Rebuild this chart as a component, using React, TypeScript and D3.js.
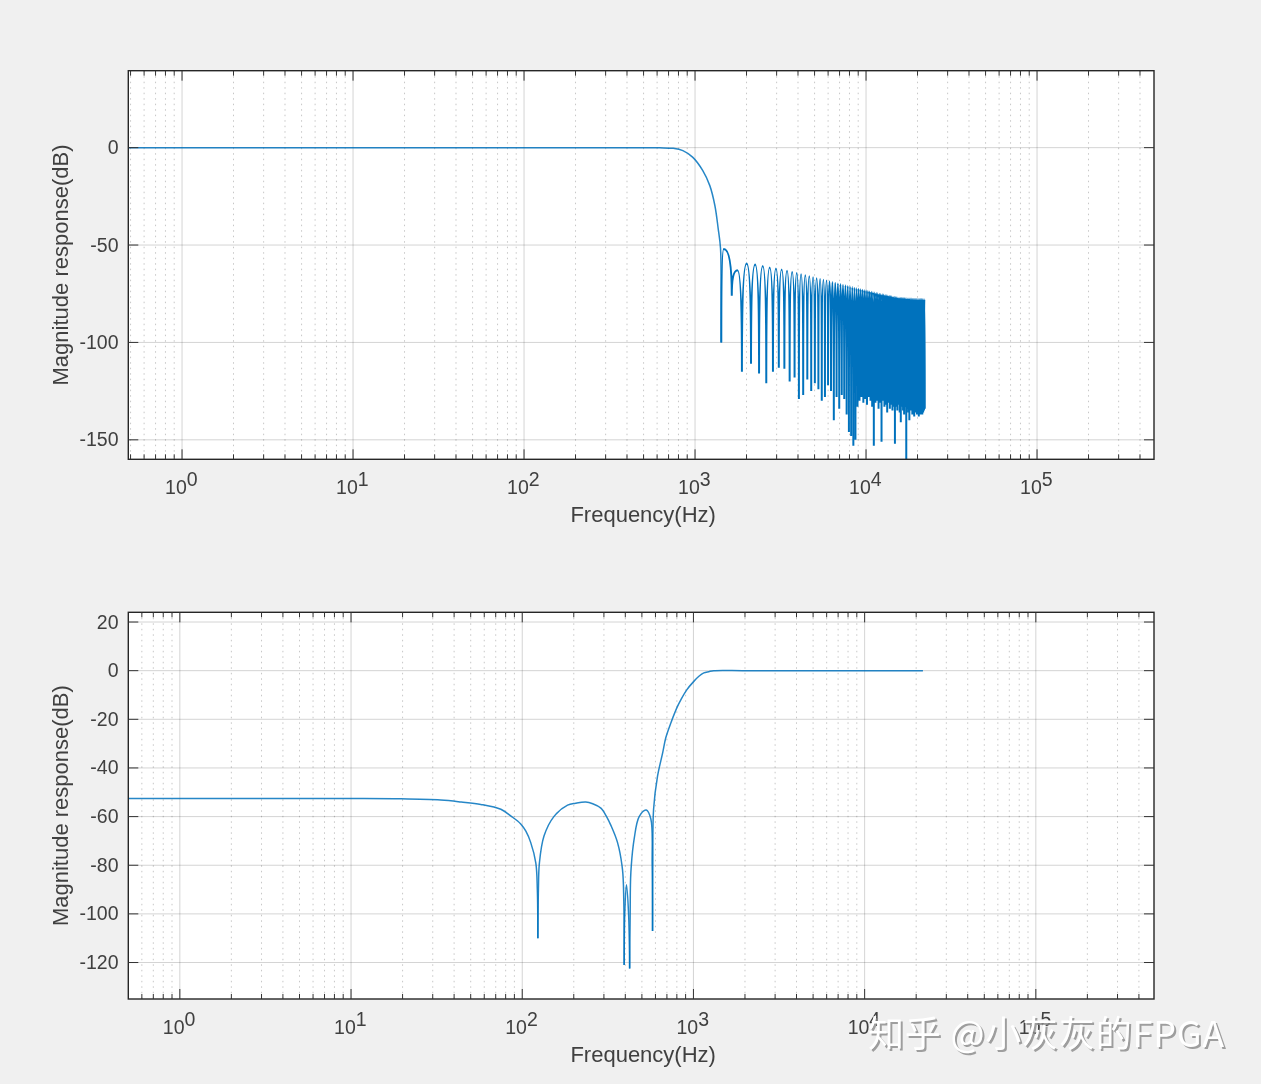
import React from "react";
import * as d3 from "d3";

const W = 1261, H = 1084;
const FONT = "'Liberation Sans', Arial, sans-serif";
const INK = "#404040";
const LINE = "#0072BD";

// ---- top panel data ----
const topPassHz = [0.485, 1, 10, 100, 300, 476, 620, 742, 849, 971, 1110, 1220, 1306, 1365, 1409, 1420, 1424];
const topPassDb = [0, 0, 0, 0, 0, 0, -0.1, -0.35, -1.5, -5, -11.8, -19.5, -29.7, -41.4, -51.6, -75, -100];
const topNullHz = [1424, 1640, 1880, 2125, 2368, 2610, 2855, 3090, 3330, 3575, 3820, 4050, 4290, 4535, 4780, 5020, 5265, 5510, 5750, 5995, 6240, 6480, 6725, 6970, 7210, 7455, 7700, 7940, 8185, 8430, 8670, 8915, 9160, 9400, 9645, 9890, 10130, 10375, 10620, 10860, 11105, 11350, 11590, 11835, 12080, 12320, 12565, 12810, 13050, 13295, 13540, 13780, 14025, 14270, 14510, 14755, 15000, 15240, 15485, 15730, 15970, 16215, 16460, 16700, 16945, 17190, 17430, 17675, 17920, 18160, 18405, 18650, 18890, 19135, 19380, 19620, 19865, 20110, 20350, 20595, 20840, 21080, 21325, 21570, 21810, 22050];
const topNullDb = [-100, -76, -115, -111, -116, -121, -115, -113, -113.5, -120, -118, -129, -127, -119, -125, -121, -124, -130, -128, -122, -125, -140, -128, -134, -127, -129, -137, -146, -148, -153, -150, -133, -130, -128, -131, -129, -132, -128, -130, -133, -153, -131, -130, -134, -131, -151, -130, -133, -132, -136, -131, -134, -132, -135, -133, -152, -133, -135, -132, -136, -141, -133, -135, -137, -133, -168, -134, -136, -140, -135, -134, -137, -135, -138, -134, -136, -137, -135, -138, -136, -137, -135, -137, -136, -135, -134];
const topPeakHz = [1472, 1770, 2003, 2246, 2489, 2732, 2972, 3210, 3452, 3697, 3935, 4170, 4412, 4657, 4900, 5142, 5387, 5630, 5872, 6117, 6360, 6602, 6847, 7090, 7332, 7577, 7820, 8062, 8307, 8550, 8792, 9037, 9280, 9522, 9767, 10010, 10252, 10497, 10740, 10982, 11227, 11470, 11712, 11957, 12200, 12442, 12687, 12930, 13172, 13417, 13660, 13902, 14147, 14390, 14632, 14877, 15120, 15362, 15607, 15850, 16092, 16337, 16580, 16822, 17067, 17310, 17552, 17797, 18040, 18282, 18527, 18770, 19012, 19257, 19500, 19742, 19987, 20230, 20472, 20717, 20960, 21202, 21447, 21690, 21930];
const topPeakDb = [-52, -63, -59.5, -60, -60.7, -61.5, -62, -62.5, -63.2, -63.8, -64.4, -65, -65.5, -66, -66.5, -67, -67.4, -67.8, -68.2, -68.6, -69, -69.4, -69.7, -70, -70.4, -70.7, -71, -71.3, -71.6, -71.9, -72.2, -72.4, -72.7, -72.9, -73.2, -73.4, -73.6, -73.8, -74, -74.2, -74.4, -74.6, -74.8, -75, -75.1, -75.3, -75.4, -75.6, -75.8, -75.9, -76, -76.2, -76.3, -76.5, -76.6, -76.7, -76.8, -76.9, -77, -77.05, -77.1, -77.15, -77.2, -77.25, -77.3, -77.35, -77.4, -77.42, -77.45, -77.48, -77.5, -77.52, -77.55, -77.58, -77.6, -77.62, -77.65, -77.68, -77.7, -77.7, -77.72, -77.73, -77.75, -77.77, -77.8];

// ---- bottom panel data: one list per stretch between sharp notches ----
const botHz1 = [0.5, 1, 5, 10, 19.6, 33.4, 44, 57.3, 75, 86, 98, 105, 112, 120, 122.5, 123.4];
const botDb1 = [-52.6, -52.6, -52.6, -52.6, -52.7, -53.2, -54, -55, -57, -59.8, -63, -66, -70.6, -79, -90, -110];
const botHz2 = [123.4, 124.3, 126, 134, 153, 184, 205, 235, 258, 288, 312, 329, 360, 385, 392, 394];
const botDb2 = [-110, -90, -79, -68, -60, -55.3, -54.5, -54, -54.7, -56.5, -60.2, -63.5, -70.6, -81.7, -95, -121];
const botHz3 = [394, 397, 406, 418, 424];
const botDb3 = [-121, -100, -88, -100, -122.5];
const botHz4 = [424, 427, 431, 451, 482, 530, 564, 574, 577];
const botDb4 = [-122.5, -100, -83, -69, -60, -57.3, -61, -80, -107];
const botHz5 = [577, 579, 585, 617, 660, 690, 738, 807, 844, 914, 1005, 1076, 1150, 1230, 1316, 2000, 5000, 10000, 21900];
const botDb5 = [-107, -80, -57, -43.4, -34, -27.5, -21.5, -14.7, -12, -7.9, -4.4, -2.3, -0.9, -0.4, 0, 0, 0, 0, 0];

// ---- axes ----
const xExponents = [0, 1, 2, 3, 4, 5];
const minorMultiples = [2, 3, 4, 5, 6, 7, 8, 9];
const topYTicks = [0, -50, -100, -150];
const botYTicks = [20, 0, -20, -40, -60, -80, -100, -120];

const AX_L = 128.3, AX_R = 1154;

const lineGen = (x: any, y: any) =>
  d3.line<[number, number]>().x(d => x(d[0])).y(d => y(d[1])).curve(d3.curveCatmullRom.alpha(0.5));

const zip = (a: number[], b: number[]) => a.map((v, i) => [v, b[i]] as [number, number]);

function Panel({ id, top, bottom, xDomain, yDomain, yTicks, children, labelY, tickLabelY }: any) {
  const x = d3.scaleLog().domain(xDomain).range([AX_L, AX_R]);
  const y = d3.scaleLinear().domain(yDomain).range([bottom, top]);
  const minors: number[] = [];
  for (let e = -1; e <= 5; e++) {
    for (const m of minorMultiples) {
      const v = m * Math.pow(10, e);
      if (v > xDomain[0] && v < xDomain[1]) minors.push(v);
    }
  }
  const majors = xExponents.map(e => Math.pow(10, e));
  const midX = (AX_L + AX_R) / 2;
  const midY = (top + bottom) / 2;
  return (
    <g>
      <clipPath id={id}><rect x={AX_L} y={top} width={AX_R - AX_L} height={bottom - top} /></clipPath>
      <rect x={AX_L} y={top} width={AX_R - AX_L} height={bottom - top} fill="#fff" />
      {minors.map(v => (
        <line key={v} x1={x(v)} x2={x(v)} y1={top} y2={bottom} stroke="#262626" strokeOpacity={0.26} strokeDasharray="1.5 4" />
      ))}
      {majors.map(v => (
        <line key={v} x1={x(v)} x2={x(v)} y1={top} y2={bottom} stroke="#262626" strokeOpacity={0.2} />
      ))}
      {yTicks.map((v: number) => (
        <line key={v} x1={AX_L} x2={AX_R} y1={y(v)} y2={y(v)} stroke="#262626" strokeOpacity={0.2} />
      ))}
      <g clipPath={`url(#${id})`} fill="none" stroke={LINE} strokeWidth={1.5} strokeOpacity={0.85}>
        {children(x, y)}
      </g>
      <rect x={AX_L} y={top} width={AX_R - AX_L} height={bottom - top} fill="none" stroke="#262626" strokeWidth={1.4} />
      {minors.map(v => (
        <g key={v} stroke="#333" strokeWidth={1}>
          <line x1={x(v)} x2={x(v)} y1={bottom} y2={bottom - 5} />
          <line x1={x(v)} x2={x(v)} y1={top} y2={top + 5} />
        </g>
      ))}
      {majors.map(v => (
        <g key={v} stroke="#333" strokeWidth={1}>
          <line x1={x(v)} x2={x(v)} y1={bottom} y2={bottom - 10} />
          <line x1={x(v)} x2={x(v)} y1={top} y2={top + 10} />
        </g>
      ))}
      {yTicks.map((v: number) => (
        <g key={v} stroke="#333" strokeWidth={1}>
          <line x1={AX_L} x2={AX_L + 10} y1={y(v)} y2={y(v)} />
          <line x1={AX_R} x2={AX_R - 10} y1={y(v)} y2={y(v)} />
        </g>
      ))}
      <g fontFamily={FONT} fill={INK} fontSize={19.5}>
        {yTicks.map((v: number) => (
          <text key={v} x={118.5} y={y(v) + 6.5} textAnchor="end">{v}</text>
        ))}
        {xExponents.map(e => (
          <text key={e} x={x(Math.pow(10, e)) - 17} y={tickLabelY}>
            10<tspan dy={-8}>{e}</tspan>
          </text>
        ))}
        <text x={midX + 2} y={labelY} textAnchor="middle" fontSize={22}>Frequency(Hz)</text>
        <text transform={`translate(68,${midY}) rotate(-90)`} textAnchor="middle" fontSize={22}>Magnitude response(dB)</text>
      </g>
    </g>
  );
}

function topRipplePath(x: any, y: any) {
  const p = d3.path();
  p.moveTo(x(topNullHz[0]), y(topNullDb[0]));
  for (let i = 0; i < topPeakHz.length && i + 1 < topNullHz.length; i++) {
    const px = x(topPeakHz[i]), py = y(topPeakDb[i]);
    p.quadraticCurveTo(x(topNullHz[i]), py, px, py);
    p.quadraticCurveTo(x(topNullHz[i + 1]), py, x(topNullHz[i + 1]), y(topNullDb[i + 1]));
  }
  return p.toString();
}

export default function App() {
  return (
    <svg width={W} height={H} viewBox={`0 0 ${W} ${H}`} style={{ position: "absolute", left: 0, top: 0 }}>
      <defs>
        <filter id="soft" x="0" y="0" width="100%" height="100%">
          <feGaussianBlur stdDeviation="0.45" />
        </filter>
      </defs>
      <rect width={W} height={H} fill="#f0f0f0" />
      <g filter="url(#soft)">
        <Panel
          id="c1" top={70.7} bottom={459.3}
          xDomain={[0.485, 4.83e5]} yDomain={[-160, 39.5]} yTicks={topYTicks}
          labelY={522} tickLabelY={494}
        >
          {(x: any, y: any) => (
            <>
              <path d={lineGen(x, y)(zip(topPassHz, topPassDb)) as string} />
              <path d={topRipplePath(x, y)} strokeWidth={2} strokeOpacity={1} />
            </>
          )}
        </Panel>
        <Panel
          id="c2" top={612.3} bottom={999}
          xDomain={[0.5, 4.9e5]} yDomain={[-135, 24]} yTicks={botYTicks}
          labelY={1062} tickLabelY={1034}
        >
          {(x: any, y: any) => (
            <>
              <path d={lineGen(x, y)(zip(botHz1, botDb1)) as string} />
              <path d={lineGen(x, y)(zip(botHz2, botDb2)) as string} />
              <path d={lineGen(x, y)(zip(botHz3, botDb3)) as string} />
              <path d={lineGen(x, y)(zip(botHz4, botDb4)) as string} />
              <path d={lineGen(x, y)(zip(botHz5, botDb5)) as string} />
            </>
          )}
        </Panel>
        <g fontFamily="'Noto Sans CJK SC', sans-serif" fontSize={36} letterSpacing={0.8}>
          <text x={870} y={1049} fill="#8a8a8a" fillOpacity={0.8}>知乎 @小灰灰的FPGA</text>
          <text x={868} y={1047} fill="#ffffff">知乎 @小灰灰的FPGA</text>
        </g>
      </g>
    </svg>
  );
}
